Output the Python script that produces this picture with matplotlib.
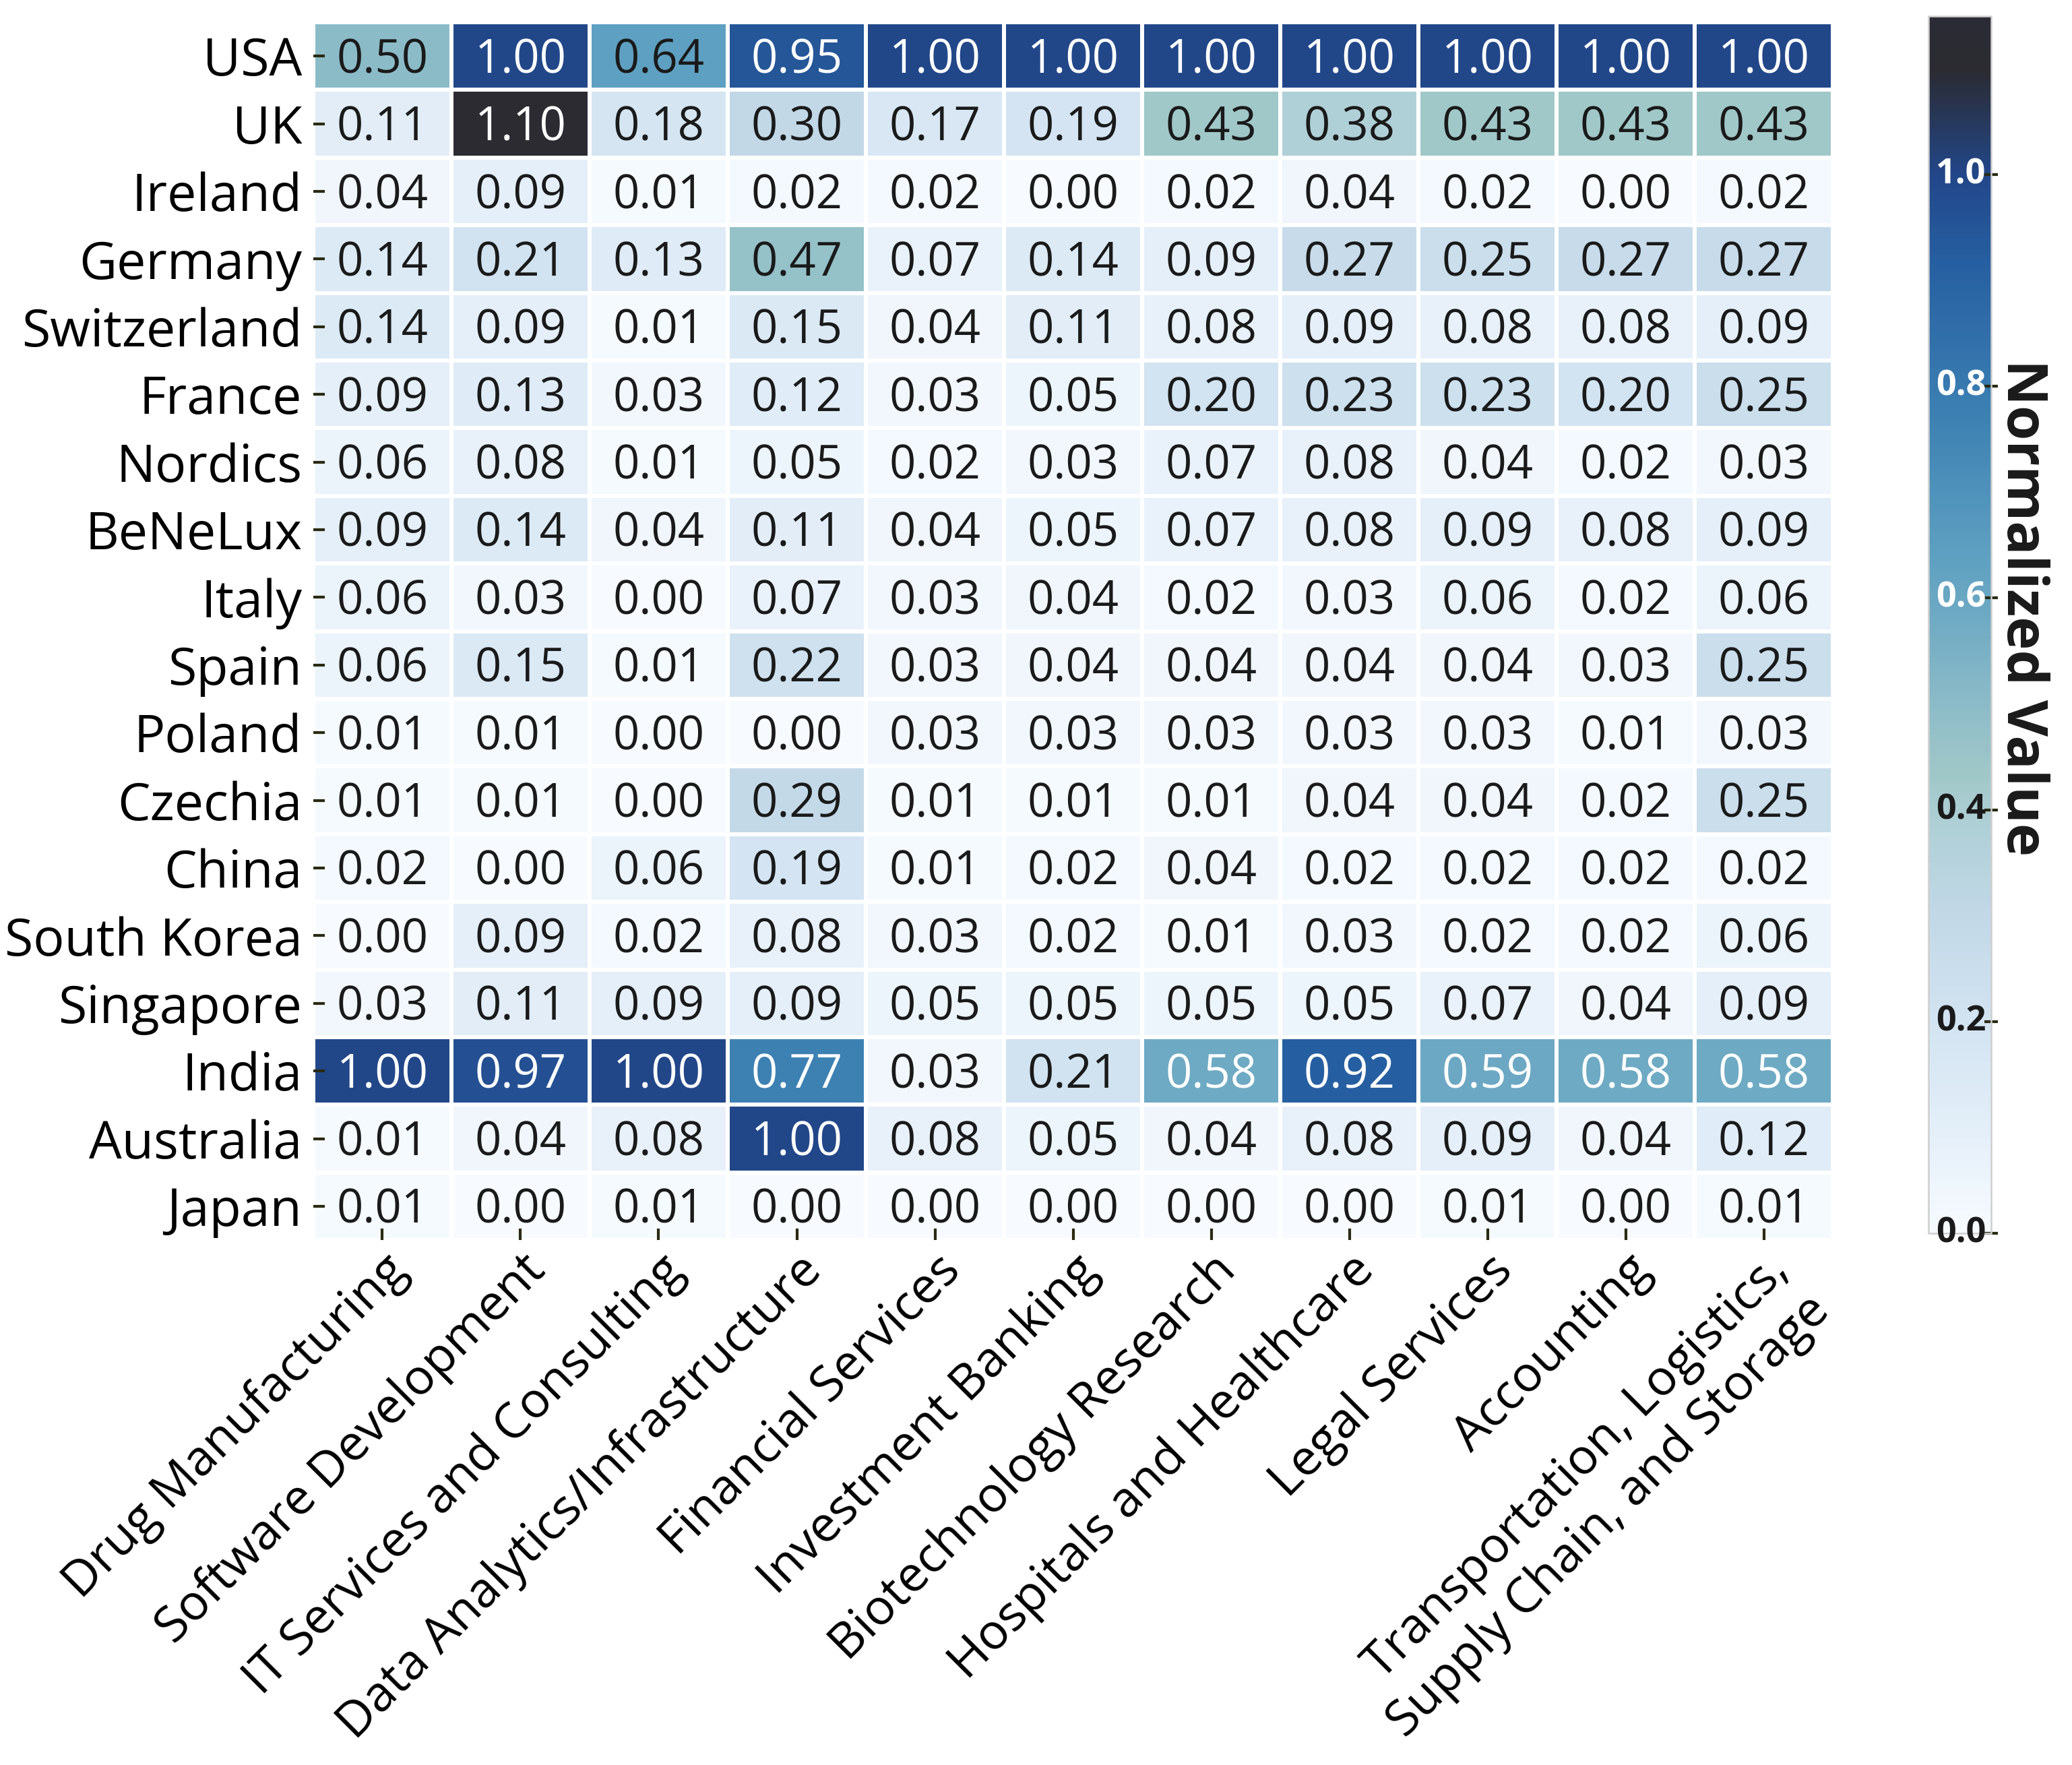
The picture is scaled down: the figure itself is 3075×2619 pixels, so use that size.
import matplotlib
matplotlib.use("Agg")
import matplotlib.pyplot as plt
from matplotlib.colors import LinearSegmentedColormap, Normalize
import numpy as np

plt.rcParams['font.family'] = ['Open Sans', 'DejaVu Sans']

countries = ["USA", "UK", "Ireland", "Germany", "Switzerland", "France", "Nordics",
             "BeNeLux", "Italy", "Spain", "Poland", "Czechia", "China", "South Korea",
             "Singapore", "India", "Australia", "Japan"]

industries = ["Drug Manufacturing", "Software Development", "IT Services and Consulting",
              "Data Analytics/Infrastructure", "Financial Services", "Investment Banking",
              "Biotechnology Research", "Hospitals and Healthcare", "Legal Services",
              "Accounting", "Transportation, Logistics,\nSupply Chain, and Storage"]

usa = [0.50, 1.00, 0.64, 0.95, 1.00, 1.00, 1.00, 1.00, 1.00, 1.00, 1.00]
uk = [0.11, 1.10, 0.18, 0.30, 0.17, 0.19, 0.43, 0.38, 0.43, 0.43, 0.43]
ireland = [0.04, 0.09, 0.01, 0.02, 0.02, 0.00, 0.02, 0.04, 0.02, 0.00, 0.02]
germany = [0.14, 0.21, 0.13, 0.47, 0.07, 0.14, 0.09, 0.27, 0.25, 0.27, 0.27]
switzerland = [0.14, 0.09, 0.01, 0.15, 0.04, 0.11, 0.08, 0.09, 0.08, 0.08, 0.09]
france = [0.09, 0.13, 0.03, 0.12, 0.03, 0.05, 0.20, 0.23, 0.23, 0.20, 0.25]
nordics = [0.06, 0.08, 0.01, 0.05, 0.02, 0.03, 0.07, 0.08, 0.04, 0.02, 0.03]
benelux = [0.09, 0.14, 0.04, 0.11, 0.04, 0.05, 0.07, 0.08, 0.09, 0.08, 0.09]
italy = [0.06, 0.03, 0.00, 0.07, 0.03, 0.04, 0.02, 0.03, 0.06, 0.02, 0.06]
spain = [0.06, 0.15, 0.01, 0.22, 0.03, 0.04, 0.04, 0.04, 0.04, 0.03, 0.25]
poland = [0.01, 0.01, 0.00, 0.00, 0.03, 0.03, 0.03, 0.03, 0.03, 0.01, 0.03]
czechia = [0.01, 0.01, 0.00, 0.29, 0.01, 0.01, 0.01, 0.04, 0.04, 0.02, 0.25]
china = [0.02, 0.00, 0.06, 0.19, 0.01, 0.02, 0.04, 0.02, 0.02, 0.02, 0.02]
south_korea = [0.00, 0.09, 0.02, 0.08, 0.03, 0.02, 0.01, 0.03, 0.02, 0.02, 0.06]
singapore = [0.03, 0.11, 0.09, 0.09, 0.05, 0.05, 0.05, 0.05, 0.07, 0.04, 0.09]
india = [1.00, 0.97, 1.00, 0.77, 0.03, 0.21, 0.58, 0.92, 0.59, 0.58, 0.58]
australia = [0.01, 0.04, 0.08, 1.00, 0.08, 0.05, 0.04, 0.08, 0.09, 0.04, 0.12]
japan = [0.01, 0.00, 0.01, 0.00, 0.00, 0.00, 0.00, 0.00, 0.01, 0.00, 0.01]

values = np.array([usa, uk, ireland, germany, switzerland, france, nordics, benelux,
                   italy, spain, poland, czechia, china, south_korea, singapore,
                   india, australia, japan])

# cells whose annotation stays dark although the value is high
dark_text_cells = [("USA", "IT Services and Consulting")]

vmin, vmax = 0.0, 1.15
anchors = [
    (0.00, '#f7fbff'), (0.10, '#e3eef8'), (0.20, '#d2e3f1'), (0.30, '#c2d8e7'),
    (0.38, '#b0d0d7'), (0.43, '#a1c8c8'), (0.50, '#8cbbc8'), (0.58, '#6faac3'),
    (0.64, '#5ea0c1'), (0.77, '#3d81b3'), (0.92, '#265fa1'), (1.00, '#22478a'),
    (1.10, '#2b2b31'), (1.15, '#2b2b35'),
]
cmap = LinearSegmentedColormap.from_list(
    "norm_blues", [((v - vmin) / (vmax - vmin), c) for v, c in anchors])
norm = Normalize(vmin=vmin, vmax=vmax)

tick_colour = '#2a2a12'

fig = plt.figure(figsize=(10.25, 8.73), dpi=300)
ax = fig.add_axes([0.1512, 0.2974, 0.8846 - 0.1512, 0.9874 - 0.2974])
cax = fig.add_axes([0.9307, 0.3013, 0.961 - 0.9307, 0.991 - 0.3013])

n_rows, n_cols = values.shape
ax.pcolormesh(np.arange(n_cols + 1), np.arange(n_rows + 1), values, cmap=cmap, norm=norm,
              edgecolors='white', linewidth=1.0)
ax.set_xlim(0, n_cols)
ax.set_ylim(n_rows, 0)

for i in range(n_rows):
    for j in range(n_cols):
        v = values[i, j]
        white = v >= 0.55 and (countries[i], industries[j]) not in dark_text_cells
        ax.text(j + 0.5, i + 0.57, f"{v:.2f}", ha='center', va='center', fontsize=16.5,
                color='white' if white else '#1a1a1a')

for s in ax.spines.values():
    s.set_visible(False)

ax.set_yticks(np.arange(n_rows) + 0.5)
ax.set_yticklabels(countries, fontsize=18.5)
ax.set_xticks(np.arange(n_cols) + 0.5)
ax.set_xticklabels(industries, fontsize=17.6, rotation=45, ha='right', rotation_mode='anchor')
ax.tick_params(axis='both', direction='in', length=4, width=1, color=tick_colour, pad=4)
ax.tick_params(axis='x', pad=2)

# colour bar
cb = fig.colorbar(plt.cm.ScalarMappable(norm=norm, cmap=cmap), cax=cax)
cb.outline.set_edgecolor('#cfcfcf')
cb.outline.set_linewidth(0.6)
cb_ticks = [0.0, 0.2, 0.4, 0.6, 0.8, 1.0]
cb.set_ticks(cb_ticks)
cb.set_ticklabels([""] * len(cb_ticks))
cax.tick_params(axis='y', direction='inout', length=5, width=1, color=tick_colour)
for t in cb_ticks:
    cax.text(0.92, t, f"{t:.1f}", transform=cax.get_yaxis_transform(),
             ha='right', va='center', fontsize=12.5, fontweight='bold',
             color='white' if t >= 0.6 else '#1a1a1a')

fig.text(3000 / 3075, 0.6556, "Normalized Value", rotation=270, ha='center', va='center',
         fontsize=20, fontweight='bold', color='#1a1a1a')

fig.savefig("out.png", dpi=300)
